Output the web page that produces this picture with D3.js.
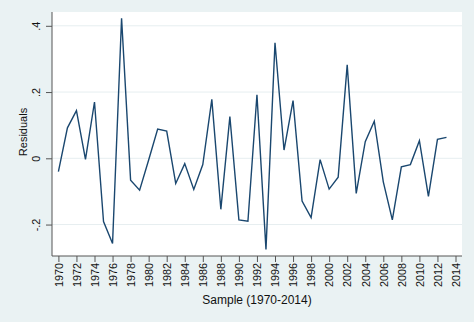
<!DOCTYPE html>
<html><head><meta charset="utf-8">
<script src="https://cdn.jsdelivr.net/npm/d3@7"></script>
<style>
html,body{margin:0;padding:0;background:#eaf2f3;}
svg{display:block;font-family:"Liberation Sans",Arial,sans-serif;}
</style></head><body>
<svg id="c" width="474" height="322"></svg>
<script>
const years = d3.range(1970, 2014);
const residuals = [-0.040,0.092,0.144,-0.003,0.170,-0.191,-0.257,0.423,-0.066,-0.096,
  -0.005,0.088,0.082,-0.076,-0.016,-0.094,-0.019,0.178,-0.154,0.126,
  -0.186,-0.190,0.192,-0.275,0.349,0.025,0.174,-0.129,-0.179,-0.004,
  -0.093,-0.057,0.282,-0.106,0.050,0.112,-0.071,-0.186,-0.026,-0.019,
  0.053,-0.115,0.057,0.063];
const xTicks = d3.range(1970, 2015, 2);
const yTicks = [-0.2, 0, 0.2, 0.4];
const yTickLabels = ["-.2", "0", ".2", ".4"];

const svg = d3.select("#c");
const L = 52, R = 462, T = 12, B = 256;
svg.append("rect").attr("x",0).attr("y",0).attr("width",474).attr("height",322).attr("fill","#eaf2f3");
svg.append("rect").attr("x",L).attr("y",T).attr("width",R-L).attr("height",B-T).attr("fill","#ffffff");

const x = d3.scaleLinear().domain([1970, 2014]).range([58.4, 455.5]);
const y = d3.scaleLinear().domain([0, 0.4]).range([158.3, 25.8]);

// gridlines
svg.append("g").selectAll("line").data(yTicks).join("line")
  .attr("x1", L).attr("x2", R).attr("y1", d=>y(d)).attr("y2", d=>y(d))
  .attr("stroke", "#e6eef0").attr("stroke-width", 1);

// y axis
const yAxis = svg.append("g").attr("transform", `translate(${L},0)`)
  .call(d3.axisLeft(y).tickValues(yTicks).tickSize(6).tickSizeOuter(0)
    .tickFormat((d,i)=>yTickLabels[i]));
yAxis.select(".domain").attr("d", `M0,${T}V${B}`).attr("stroke","#555");
yAxis.selectAll(".tick line").attr("stroke","#555");
yAxis.selectAll(".tick text").attr("font-size", 10.8).attr("fill","#111")
  .attr("transform","rotate(-90)").attr("x", 0).attr("y", -12)
  .attr("text-anchor","middle").attr("dy","0");

// x axis
const xAxis = svg.append("g").attr("transform", `translate(0,${B})`)
  .call(d3.axisBottom(x).tickValues(xTicks).tickSize(6).tickSizeOuter(0).tickFormat(d3.format("d")));
xAxis.select(".domain").attr("d", `M${L},0H${R}`).attr("stroke","#555");
xAxis.selectAll(".tick line").attr("stroke","#555");
xAxis.selectAll(".tick text").attr("font-size", 10.8).attr("fill","#111")
  .attr("transform","rotate(-90)").attr("x", -7).attr("y", 0).attr("dy","0.35em")
  .attr("text-anchor","end");

// titles
svg.append("text").attr("transform", `translate(27,132) rotate(-90)`)
  .attr("text-anchor","middle").attr("font-size",11).attr("fill","#111").text("Residuals");
svg.append("text").attr("x", 257).attr("y", 304)
  .attr("text-anchor","middle").attr("font-size",12).attr("fill","#111").text("Sample (1970-2014)");

// line
const line = d3.line().x((d,i)=>x(years[i])).y(d=>y(d));
svg.append("path").datum(residuals).attr("d", line)
  .attr("fill","none").attr("stroke","#1a476f").attr("stroke-width",1.4).attr("stroke-linejoin","miter");
</script>
</body></html>
